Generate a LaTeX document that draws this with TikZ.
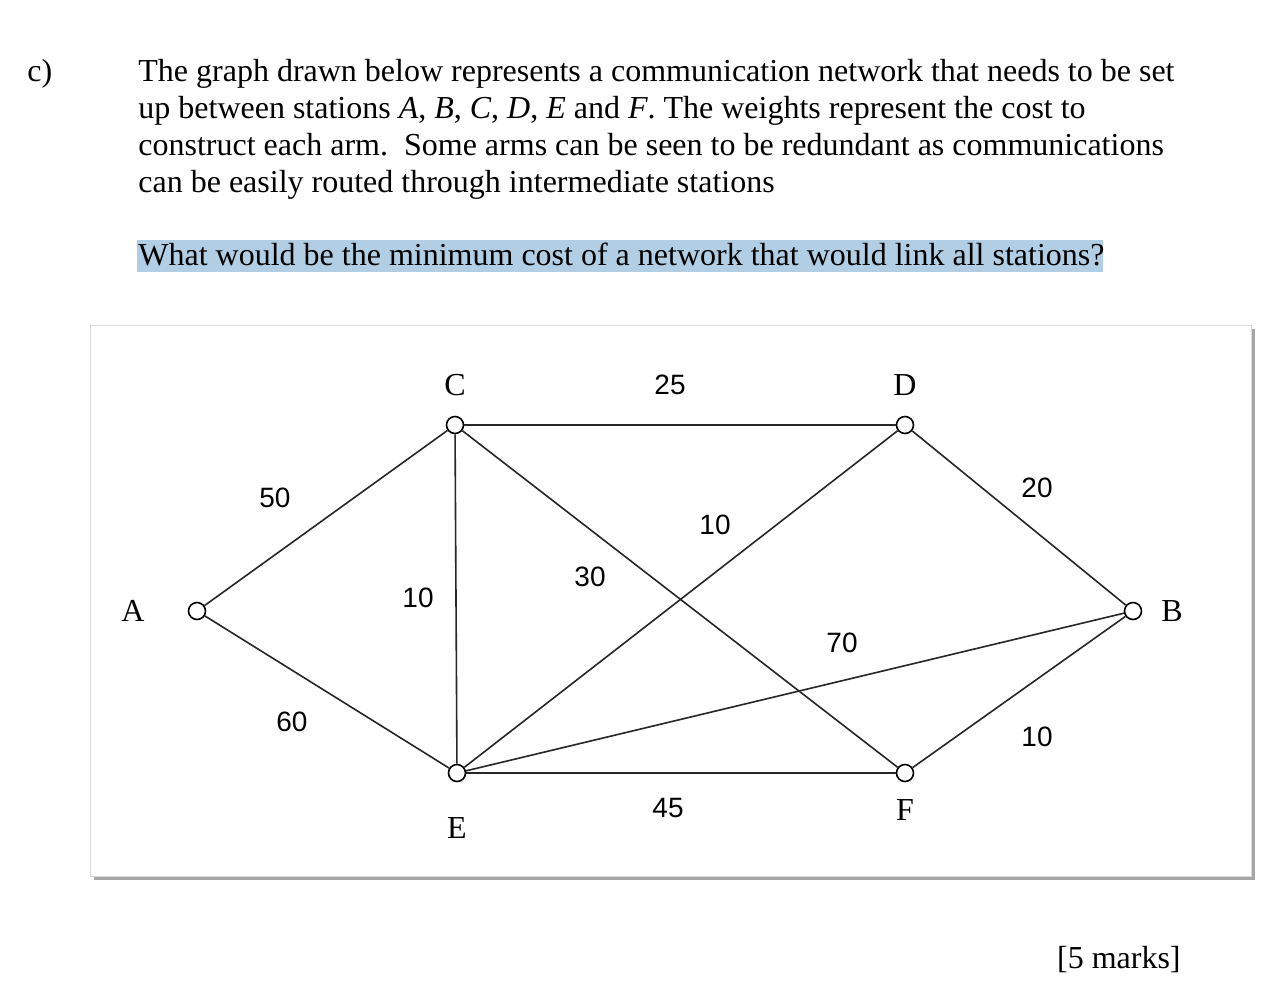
\documentclass[tikz,border=0pt]{standalone}
\usepackage{fontspec}
\setmainfont{Liberation Serif}
\newfontfamily\lbl{Liberation Sans}
\definecolor{hl}{RGB}{178,206,228}
\begin{document}
\begin{tikzpicture}[x=0.5pt,y=-0.5pt,
  txt/.style={anchor=base west,inner sep=0,font=\fontsize{16}{19}\selectfont},
  vtx/.style={circle,draw,thick,fill=white,minimum size=8.5pt,inner sep=0},
  edge/.style={thick,black!85},
  wl/.style={font=\lbl\fontsize{14}{16}\selectfont,inner sep=1pt},
  nl/.style={font=\fontsize{16}{18}\selectfont,inner sep=1pt}]
\useasboundingbox (0,0) rectangle (1264,998);
\node[txt] (c) at (27,81) {c)};
\node[txt] (l1) at (138,81) {The graph drawn below represents a communication network that needs to be set};
\node[txt] (l2) at (138,118) {up between stations \textit{A}, \textit{B}, \textit{C}, \textit{D}, \textit{E} and \textit{F}. The weights represent the cost to};
\node[txt] (l3) at (138,155) {construct each arm.\ \ Some arms can be seen to be redundant as communications};
\node[txt] (l4) at (138,192) {can be easily routed through intermediate stations};
\fill[hl] (137,240) rectangle (1103,272);
\node[txt] (q) at (138,265) {What would be the minimum cost of a network that would link all stations?};
\node[txt,anchor=base east] (m) at (1181,968) {[5 marks]};
% frame
\fill[black!35] (94,329) rectangle (1255,880);
\filldraw[draw=black!15,fill=white] (90,325) rectangle (1251,876);
\node[vtx] (C) at (455,425) {};
\node[vtx] (D) at (905,425) {};
\node[vtx] (A) at (197,611) {};
\node[vtx] (B) at (1133,611) {};
\node[vtx] (E) at (457,773) {};
\node[vtx] (F) at (905,773) {};
\draw[edge] (C) -- (D);
\draw[edge] (A) -- (C);
\draw[edge] (A) -- (E);
\draw[edge] (C) -- (E);
\draw[edge] (C) -- (F);
\draw[edge] (E) -- (D);
\draw[edge] (E) -- (B);
\draw[edge] (E) -- (F);
\draw[edge] (D) -- (B);
\draw[edge] (F) -- (B);
\node[nl] (tC) at (455,385) {C};
\node[nl] (tD) at (905,385) {D};
\node[nl] (tA) at (133,611) {A};
\node[nl] (tB) at (1172,611) {B};
\node[nl] (tE) at (457,828) {E};
\node[nl] (tF) at (905,810) {F};
\node[wl] (w1) at (670,385) {25};
\node[wl] (w2) at (275,498) {50};
\node[wl] (w3) at (1037,488) {20};
\node[wl,fill=white] (w4) at (715,525) {10};
\node[wl] (w5) at (590,577) {30};
\node[wl] (w6) at (418,598) {10};
\node[wl] (w7) at (842,643) {70};
\node[wl] (w8) at (292,722) {60};
\node[wl] (w9) at (1037,737) {10};
\node[wl] (w10) at (668,808) {45};
\end{tikzpicture}
\end{document}
